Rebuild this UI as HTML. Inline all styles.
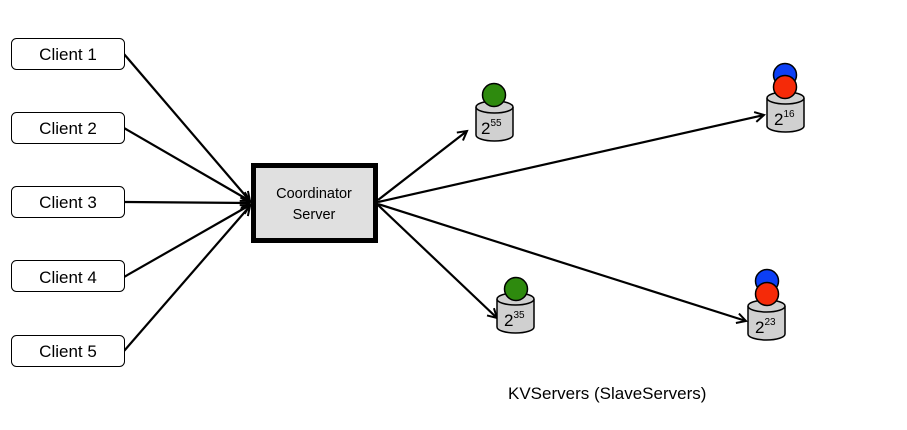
<!DOCTYPE html>
<html><head><style>
body{margin:0;background:#fff;}
svg text{font-family:"Liberation Sans",sans-serif;}
</style></head><body>
<svg width="907" height="425" viewBox="0 0 907 425" xmlns="http://www.w3.org/2000/svg">
<defs>
<marker id="a" markerWidth="12" markerHeight="12" refX="10" refY="6" orient="auto" markerUnits="userSpaceOnUse">
<path d="M1,1 L10,6 L1,11" fill="none" stroke="#000" stroke-width="2"/>
</marker>
<g id="cyl">
<path d="M0,6 L0,34 A18.5,6 0 0 0 37,34 L37,6" fill="#d0d0d0" stroke="#000" stroke-width="1.5"/>
<ellipse cx="18.5" cy="6" rx="18.5" ry="6" fill="#d0d0d0" stroke="#000" stroke-width="1.5"/>
</g>
</defs>
<g stroke="#000" stroke-width="2.2" fill="none" marker-end="url(#a)">
<line x1="124" y1="54" x2="250" y2="201"/>
<line x1="124" y1="128" x2="250" y2="201"/>
<line x1="124" y1="202" x2="250" y2="203"/>
<line x1="124" y1="277" x2="250" y2="205"/>
<line x1="124" y1="351" x2="250" y2="206"/>
<line x1="378" y1="200" x2="467" y2="131"/>
<line x1="378" y1="202" x2="764" y2="115"/>
<line x1="378" y1="205" x2="497" y2="318"/>
<line x1="378" y1="204" x2="746" y2="321"/>
</g>
<g fill="#fff" stroke="#000" stroke-width="1">
<rect x="11.5" y="38.5" width="113" height="31" rx="5"/>
<rect x="11.5" y="112.5" width="113" height="31" rx="5"/>
<rect x="11.5" y="186.5" width="113" height="31" rx="5"/>
<rect x="11.5" y="260.5" width="113" height="31" rx="5"/>
<rect x="11.5" y="335.5" width="113" height="31" rx="5"/>
</g>
<g font-size="17" text-anchor="middle" fill="#000">
<text x="68" y="60">Client 1</text>
<text x="68" y="134">Client 2</text>
<text x="68" y="208">Client 3</text>
<text x="68" y="283">Client 4</text>
<text x="68" y="357">Client 5</text>
</g>
<rect x="253.5" y="165.5" width="122" height="75" fill="#e0e0e0" stroke="#000" stroke-width="5"/>
<text x="314" y="198" font-size="14.5" text-anchor="middle">Coordinator</text>
<text x="314" y="219" font-size="14.5" text-anchor="middle">Server</text>

<use href="#cyl" x="476" y="101"/>
<circle cx="494" cy="95" r="11.5" fill="#2e8a0e" stroke="#000" stroke-width="1.5"/>
<text x="481" y="134" font-size="17">2<tspan font-size="10" dy="-8">55</tspan></text>

<use href="#cyl" x="767" y="92"/>
<circle cx="785" cy="75" r="11.5" fill="#0c3ff5" stroke="#000" stroke-width="1.5"/>
<circle cx="785" cy="87" r="11.5" fill="#f52a08" stroke="#000" stroke-width="1.5"/>
<text x="774" y="125" font-size="17">2<tspan font-size="10" dy="-8">16</tspan></text>

<use href="#cyl" x="497" y="293"/>
<circle cx="516" cy="289" r="11.5" fill="#2e8a0e" stroke="#000" stroke-width="1.5"/>
<text x="504" y="326" font-size="17">2<tspan font-size="10" dy="-8">35</tspan></text>

<use href="#cyl" x="748" y="300"/>
<circle cx="767" cy="281" r="11.5" fill="#0c3ff5" stroke="#000" stroke-width="1.5"/>
<circle cx="767" cy="294" r="11.5" fill="#f52a08" stroke="#000" stroke-width="1.5"/>
<text x="755" y="333" font-size="17">2<tspan font-size="10" dy="-8">23</tspan></text>

<text x="508" y="399" font-size="17">KVServers (SlaveServers)</text>
</svg>
</body></html>
